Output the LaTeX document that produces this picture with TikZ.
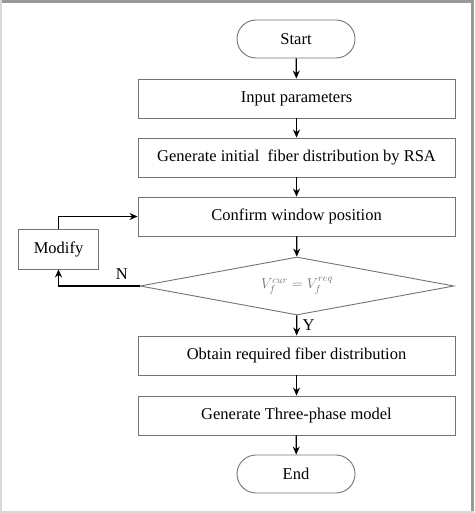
\documentclass[tikz,border=0pt]{standalone}
\usepackage{fontspec}
\setmainfont{Liberation Serif}
\usetikzlibrary{shapes.geometric,arrows.meta}
\tikzset{
	txt/.style={font=\fontsize{16.5}{19}\selectfont},
	box/.style={txt,draw=black!55,line width=0.9pt,minimum width=317pt,minimum height=39pt,inner sep=0pt},
	term/.style={box,minimum width=118pt,minimum height=38pt,rounded corners=19pt},
	arr/.style={line width=1.3pt,-{Stealth[length=8pt,width=7pt]}}
}
\begin{document}
\begin{tikzpicture}[x=1pt,y=-1pt]
				\useasboundingbox (0,0) rectangle (474,513);
				\draw[black!40,line width=3pt] (0,1.5) -- (472.5,1.5) -- (472.5,513);
				\draw[black!15,line width=2pt] (1,0) -- (1,512) -- (474,512);
				\node[term] (start) at (296,39) {Start};
				\node[box] (inp) at (296.5,98.5) {Input parameters};
				\node[box] (gen) at (296.5,157.5) {Generate initial\ \ fiber distribution by RSA};
				\node[box] (conf) at (296.5,216.5) {Confirm window position};
				\node[draw=black!55,line width=0.9pt,diamond,aspect=5.4,minimum width=314pt,minimum height=58pt,inner sep=0pt,text=black!55,font=\fontsize{14.5}{17}\selectfont] (dec) at (297,286) {$V_f^{cur}=V_f^{req}$};
				\node[box,minimum width=80pt,minimum height=40pt] (mod) at (58.5,249) {Modify};
				\node[box] (obt) at (296.5,355.5) {Obtain required fiber distribution};
				\node[box] (three) at (296.5,415.5) {Generate Three-phase model};
				\node[term] (end) at (296,474) {End};
				\draw[arr] (start) -- (inp);
				\draw[arr] (inp) -- (gen);
				\draw[arr] (gen) -- (conf);
				\draw[arr] (conf) -- (dec);
				\draw[arr] (dec) -- node[txt,right,xshift=2pt] (ylab) {Y} (obt);
				\draw[arr] (obt) -- (three);
				\draw[arr] (three) -- (end);
				\draw[arr] (dec.west) -| node[txt,pos=0.11,above,yshift=3pt] (nlab) {N} (mod.south);
				\draw[arr] (mod.north) |- (conf.west);
				\end{tikzpicture}
\end{document}
